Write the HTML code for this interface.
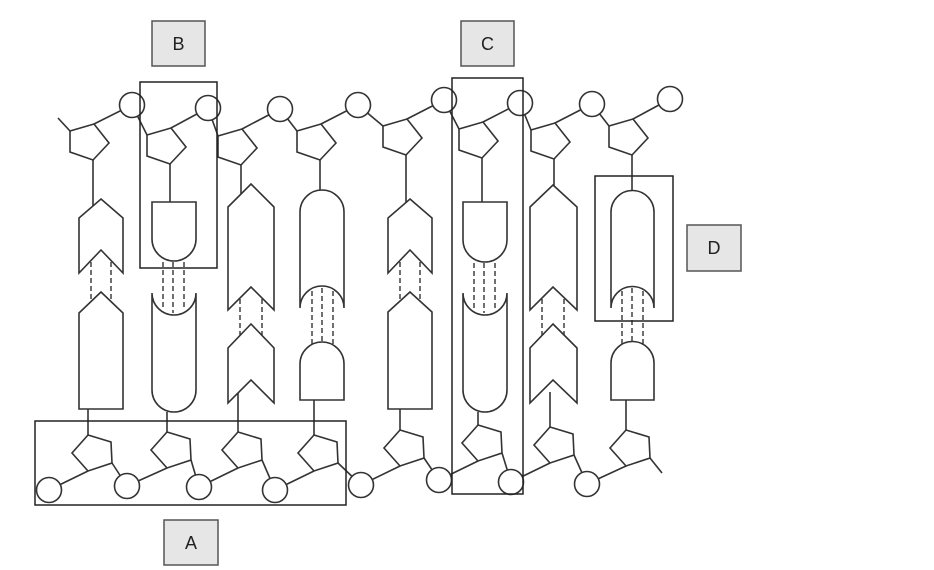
<!DOCTYPE html>
<html><head><meta charset="utf-8"><style>
html,body{margin:0;padding:0;background:#fff;}
svg{display:block;}
text{font-family:"Liberation Sans",sans-serif;font-size:18px;fill:#222;}
</style></head><body>
<svg width="934" height="570" viewBox="0 0 934 570" xmlns="http://www.w3.org/2000/svg">
<g stroke="#333" stroke-width="1.6" fill="none" stroke-linejoin="miter">
<line x1="70" y1="131" x2="58" y2="118"/>
<line x1="94" y1="124" x2="132" y2="105"/><line x1="147" y1="135" x2="132" y2="105"/>
<line x1="171" y1="128" x2="208" y2="108"/><line x1="218" y1="136" x2="208" y2="108"/>
<line x1="242" y1="129" x2="280" y2="109"/><line x1="297" y1="131" x2="280" y2="109"/>
<line x1="321" y1="124" x2="358" y2="105"/><line x1="383" y1="126" x2="358" y2="105"/>
<line x1="407" y1="119" x2="444" y2="100"/><line x1="459" y1="129" x2="444" y2="100"/>
<line x1="483" y1="122" x2="520" y2="103"/><line x1="531" y1="130" x2="520" y2="103"/>
<line x1="555" y1="123" x2="592" y2="104"/><line x1="609" y1="126" x2="592" y2="104"/>
<line x1="633" y1="119" x2="670" y2="99"/>
<line x1="93" y1="160" x2="93" y2="215"/>
<line x1="170" y1="164" x2="170" y2="202"/>
<line x1="241" y1="165" x2="241" y2="200"/>
<line x1="320" y1="160" x2="320" y2="195"/>
<line x1="406" y1="155" x2="406" y2="205"/>
<line x1="482" y1="158" x2="482" y2="202"/>
<line x1="554" y1="159" x2="554" y2="190"/>
<line x1="632" y1="155" x2="632" y2="195"/>
<line x1="88" y1="409" x2="88" y2="435"/>
<line x1="167" y1="412" x2="167" y2="432"/>
<line x1="238" y1="392" x2="238" y2="432"/>
<line x1="314" y1="400" x2="314" y2="435"/>
<line x1="400" y1="409" x2="400" y2="430"/>
<line x1="478" y1="412" x2="478" y2="425"/>
<line x1="550" y1="392" x2="550" y2="427"/>
<line x1="626" y1="400" x2="626" y2="430"/>
<line x1="88" y1="471" x2="49" y2="490"/><line x1="112" y1="463" x2="127" y2="486"/>
<line x1="167" y1="468" x2="127" y2="486"/><line x1="191" y1="460" x2="199" y2="487"/>
<line x1="238" y1="468" x2="199" y2="487"/><line x1="262" y1="460" x2="275" y2="490"/>
<line x1="314" y1="471" x2="275" y2="490"/><line x1="338" y1="463" x2="361" y2="485"/>
<line x1="400" y1="466" x2="361" y2="485"/><line x1="424" y1="458" x2="439" y2="480"/>
<line x1="478" y1="461" x2="439" y2="480"/><line x1="502" y1="453" x2="511" y2="482"/>
<line x1="550" y1="463" x2="511" y2="482"/><line x1="574" y1="455" x2="587" y2="484"/>
<line x1="626" y1="466" x2="587" y2="484"/><line x1="650" y1="458" x2="662" y2="473"/>
</g>
<g stroke="#333" stroke-width="1.6" fill="#fff">
<polygon points="70,131 94,124 109,143 93,160 70,152"/>
<polygon points="147,135 171,128 186,147 170,164 147,156"/>
<polygon points="218,136 242,129 257,148 241,165 218,157"/>
<polygon points="297,131 321,124 336,143 320,160 297,152"/>
<polygon points="383,126 407,119 422,138 406,155 383,147"/>
<polygon points="459,129 483,122 498,141 482,158 459,150"/>
<polygon points="531,130 555,123 570,142 554,159 531,151"/>
<polygon points="609,126 633,119 648,138 632,155 609,147"/>
<circle cx="132" cy="105" r="12.5"/><circle cx="208" cy="108" r="12.5"/>
<circle cx="280" cy="109" r="12.5"/><circle cx="358" cy="105" r="12.5"/>
<circle cx="444" cy="100" r="12.5"/><circle cx="520" cy="103" r="12.5"/>
<circle cx="592" cy="104" r="12.5"/><circle cx="670" cy="99" r="12.5"/>
<polygon points="88,435 111,442 112,463 88,471 72,453"/>
<polygon points="167,432 190,439 191,460 167,468 151,450"/>
<polygon points="238,432 261,439 262,460 238,468 222,450"/>
<polygon points="314,435 337,442 338,463 314,471 298,453"/>
<polygon points="400,430 423,437 424,458 400,466 384,448"/>
<polygon points="478,425 501,432 502,453 478,461 462,443"/>
<polygon points="550,427 573,434 574,455 550,463 534,445"/>
<polygon points="626,430 649,437 650,458 626,466 610,448"/>
<circle cx="49" cy="490" r="12.5"/><circle cx="127" cy="486" r="12.5"/>
<circle cx="199" cy="487" r="12.5"/><circle cx="275" cy="490" r="12.5"/>
<circle cx="361" cy="485" r="12.5"/><circle cx="439" cy="480" r="12.5"/>
<circle cx="511" cy="482" r="12.5"/><circle cx="587" cy="484" r="12.5"/>
<polygon points="101,199 123,218 123,273 101,250 79,273 79,218"/>
<polygon points="101,292 123,313 123,409 79,409 79,313"/>
<path d="M152,202 H196 V239 A22,22 0 0 1 152,239 Z"/>
<path d="M152,293 A22,22 0 0 0 196,293 V390 A22,22 0 0 1 152,390 Z"/>
<polygon points="251,184 274,207 274,310 251,287 228,310 228,207"/>
<polygon points="251,324 274,348 274,403 251,380 228,403 228,348"/>
<path d="M300,212 A22,22 0 0 1 344,212 V308 A22,22 0 0 0 300,308 Z"/>
<path d="M300,364 A22,22 0 0 1 344,364 V400 H300 Z"/>
<polygon points="410,199 432,218 432,273 410,250 388,273 388,218"/>
<polygon points="410,292 432,312 432,409 388,409 388,312"/>
<path d="M463,202 H507 V240 A22,22 0 0 1 463,240 Z"/>
<path d="M463,293 A22,22 0 0 0 507,293 V390 A22,22 0 0 1 463,390 Z"/>
<polygon points="553,185 577,207 577,310 553,287 530,310 530,207"/>
<polygon points="553,324 577,348 577,403 553,380 530,403 530,348"/>
<path d="M611,212 A21.5,21.5 0 0 1 654,212 V308 A21.5,21.5 0 0 0 611,308 Z"/>
<path d="M611,363 A21.5,21.5 0 0 1 654,363 V400 H611 Z"/>
</g>
<g stroke="#333" stroke-dasharray="5,3" stroke-width="1.4">
<line x1="91" y1="262" x2="91" y2="300"/><line x1="111" y1="262" x2="111" y2="300"/>
<line x1="163" y1="262" x2="163" y2="310"/><line x1="173" y1="262" x2="173" y2="313"/><line x1="184" y1="262" x2="184" y2="310"/>
<line x1="240" y1="299" x2="240" y2="335"/><line x1="262" y1="299" x2="262" y2="335"/>
<line x1="312" y1="291" x2="312" y2="346"/><line x1="322" y1="288" x2="322" y2="342"/><line x1="333" y1="291" x2="333" y2="346"/>
<line x1="400" y1="262" x2="400" y2="300"/><line x1="420" y1="262" x2="420" y2="300"/>
<line x1="474" y1="263" x2="474" y2="310"/><line x1="484" y1="263" x2="484" y2="313"/><line x1="495" y1="263" x2="495" y2="310"/>
<line x1="542" y1="299" x2="542" y2="335"/><line x1="564" y1="299" x2="564" y2="335"/>
<line x1="622" y1="291" x2="622" y2="346"/><line x1="632" y1="288" x2="632" y2="342"/><line x1="643" y1="291" x2="643" y2="346"/>
</g>
<g stroke="#222" stroke-width="1.5" fill="none">
<rect x="35" y="421" width="311" height="84"/>
<rect x="140" y="82" width="77" height="186"/>
<rect x="452" y="78" width="71" height="416"/>
<rect x="595" y="176" width="78" height="145"/>
</g>
<g stroke="#555" stroke-width="1.5" fill="#e6e6e6">
<rect x="152" y="21" width="53" height="45"/>
<rect x="461" y="21" width="53" height="45"/>
<rect x="687" y="225" width="54" height="46"/>
<rect x="164" y="520" width="54" height="45"/>
</g>
<text x="178.5" y="50" text-anchor="middle">B</text>
<text x="487.5" y="50" text-anchor="middle">C</text>
<text x="714" y="254" text-anchor="middle">D</text>
<text x="191" y="549" text-anchor="middle">A</text>
</svg>
</body></html>
